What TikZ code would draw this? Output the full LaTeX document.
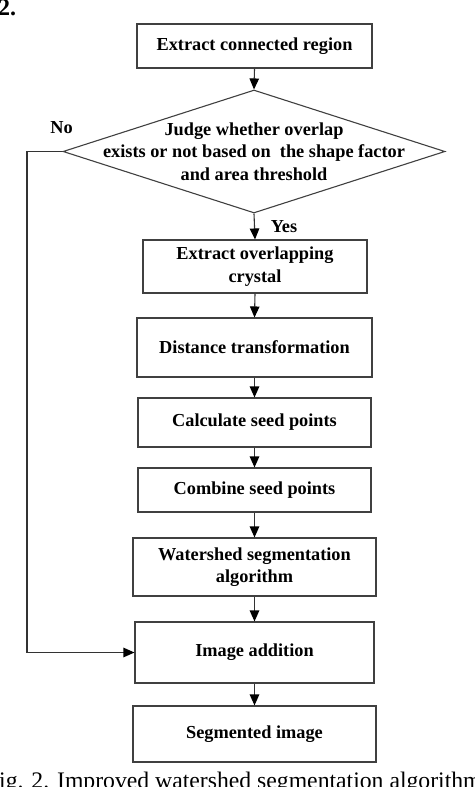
\documentclass[tikz,border=0pt]{standalone}
\usepackage{fontspec}
\setmainfont{Liberation Serif}
\usetikzlibrary{arrows.meta,shapes.geometric}
\tikzset{
  box/.style={draw=black!75, line width=1.1pt, rectangle, inner sep=0pt, align=center,
    font=\bfseries\fontsize{18.3}{22.5}\selectfont},
  arr/.style={draw=black!80, line width=1.1pt, -{Triangle[length=11pt,width=9.5pt,fill=black,color=black]}},
  lbl/.style={inner sep=0pt, font=\bfseries\fontsize{18.3}{22.5}\selectfont},
}
\begin{document}
\begin{tikzpicture}[x=1pt,y=-1pt]
\useasboundingbox (0,0) rectangle (474,787);
\clip (0,0) rectangle (474,787);
\node[anchor=base west, inner sep=0pt, font=\bfseries\fontsize{24}{24}\selectfont] (hd) at (-2,15) {2.};
\node[box, minimum width=235pt, minimum height=44pt] (b1) at (254.5,46) {Extract connected region};
\node[draw=black!75, line width=1.1pt, diamond, inner sep=0pt, minimum width=382pt, minimum height=123pt] (dia) at (254,151.5) {};
\node[lbl, align=center] (diat) at (254,151.5) {Judge whether overlap\\exists or not based on~ the shape factor\\and area threshold};
\node[box, minimum width=224pt, minimum height=53pt] (b2) at (255,266.5) {Extract overlapping\\crystal};
\node[box, minimum width=235pt, minimum height=59pt] (b3) at (254.5,347.5) {Distance transformation};
\node[box, minimum width=233pt, minimum height=49pt] (b4) at (254.5,422.5) {Calculate seed points};
\node[box, minimum width=233pt, minimum height=44pt] (b5) at (254.5,490) {Combine seed points};
\node[box, minimum width=243pt, minimum height=58pt] (b6) at (254.5,567) {Watershed segmentation\\algorithm};
\node[box, minimum width=239pt, minimum height=61pt] (b7) at (254.5,652.5) {Image addition};
\node[box, minimum width=243pt, minimum height=56pt] (b8) at (254.5,734) {Segmented image};
\node[lbl] (no) at (61.5,128) {No};
\node[lbl] (yes) at (284,227) {Yes};
\coordinate (c1) at (27,151.5);
\coordinate (c2) at (27,652.5);
\draw[arr] (b1.south) -- (dia.north);
\draw[arr] (dia.south) -- (b2.north);
\draw[arr] (b2.south) -- (b3.north);
\draw[arr] (b3.south) -- (b4.north);
\draw[arr] (b4.south) -- (b5.north);
\draw[arr] (b5.south) -- (b6.north);
\draw[arr] (b6.south) -- (b7.north);
\draw[arr] (b7.south) -- (b8.north);
\draw[arr] (dia.west) -- (c1) -- (c2) -- (b7.west);
\node[anchor=base west, inner sep=0pt, font=\fontsize{23.7}{24}\selectfont] (cap) at (-1,788) {ig. 2. Improved watershed segmentation algorithm};
\end{tikzpicture}
\end{document}
